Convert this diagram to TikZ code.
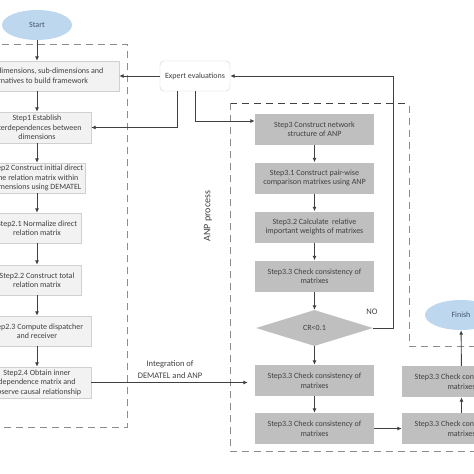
\documentclass[tikz,border=0pt]{standalone}
\usepackage{fontspec}
\setmainfont{Carlito}
\usetikzlibrary{arrows.meta,shapes.geometric}
\definecolor{lbox}{HTML}{F2F2F2}
\definecolor{lborder}{HTML}{D0D0D0}
\definecolor{dbox}{HTML}{BFBFBF}
\definecolor{txt}{HTML}{404040}
\definecolor{ell}{HTML}{BDD7EE}
\definecolor{elltxt}{HTML}{44546A}
\definecolor{dash}{HTML}{8C8C8C}
\begin{document}
\begin{tikzpicture}[x=1pt,y=-1pt,
  lstep/.style={draw=lborder,fill=lbox,align=center,text=txt,font=\fontsize{8}{9.5}\selectfont,minimum height=30pt,inner sep=1pt},
  dstep/.style={fill=dbox,align=center,text=txt,font=\fontsize{8}{9.5}\selectfont,minimum width=119pt,minimum height=31pt,inner sep=1pt},
  term/.style={ellipse,fill=ell,text=elltxt,font=\fontsize{8}{9.5}\selectfont,minimum width=70pt,minimum height=30pt,inner sep=0pt},
  arr/.style={draw=txt,line width=0.9pt,-{Latex[length=4.5pt,width=4pt]}},
  dsh/.style={draw=dash,line width=0.9pt,dash pattern=on 7pt off 5pt}]
\useasboundingbox (0,0) rectangle (474,474);
\clip (0,0) rectangle (474,474);
% dashed frames
\draw[dsh] (-10,44) -- (127,44) -- (127,427) -- (-10,427);
\draw[dsh,draw=txt] (230,103) -- (409,103);
\draw[dsh] (409,106) -- (409,346) -- (480,346);
\draw[dsh] (230,103) -- (230,451) -- (480,451);
% left column
\node[term] (start) at (37,25) {Start};
\node[lstep,minimum width=164pt] (b1) at (37,76) {Identify dimensions, sub-dimensions and\\alternatives to build framework};
\node[lstep,minimum width=108pt,minimum height=31pt] (b2) at (37,127.5) {Step1 Establish\\interdependences between\\dimensions};
\node[lstep,minimum width=96pt] (b3) at (37,178) {Step2 Construct initial direct\\the relation matrix within\\dimensions using DEMATEL};
\node[lstep,minimum width=88pt] (b4) at (37,228) {Step2.1 Normalize direct\\relation matrix};
\node[lstep,minimum width=88pt] (b5) at (37,280) {Step2.2 Construct total\\relation matrix};
\node[lstep,minimum width=108pt] (b6) at (37,331) {Step2.3 Compute dispatcher\\and receiver};
\node[lstep,minimum width=108pt,minimum height=31pt] (b7) at (37,382.5) {Step2.4 Obtain inner\\dependence matrix and\\observe causal relationship};
\draw[arr] (start) -- (b1);
\draw[arr] (b1) -- (b2);
\draw[arr] (b2) -- (b3);
\draw[arr] (b3) -- (b4);
\draw[arr] (b4) -- (b5);
\draw[arr] (b5) -- (b6);
\draw[arr] (b6) -- (b7);
% expert
\node[draw=lborder,fill=white,rounded corners=4pt,text=txt,font=\fontsize{8}{9.5}\selectfont,minimum width=70pt,minimum height=30pt,inner sep=1pt] (ee) at (195,76) {Expert evaluations};
\draw[arr] (ee) -- (b1);
\draw[arr] ([xshift=-18pt]ee.south) |- (b2.east);
% middle column
\node[dstep] (s1) at (314.5,129) {Step3 Construct network\\structure of ANP};
\node[dstep] (s2) at (314.5,178) {Step3.1 Construct pair-wise\\comparison matrixes using ANP};
\node[dstep] (s3) at (314.5,227) {Step3.2 Calculate\ \ relative\\important weights of matrixes};
\node[dstep] (s4) at (314.5,276) {Step3.3 Check consistency of\\matrixes};
\node[diamond,fill=dbox,text=txt,font=\fontsize{8}{9.5}\selectfont,minimum width=117pt,minimum height=36pt,inner sep=0pt,aspect=3.25] (d) at (314.5,328) {CR<0.1};
\node[dstep] (s5) at (314.5,380.5) {Step3.3 Check consistency of\\matrixes};
\node[dstep] (s6) at (314.5,428.5) {Step3.3 Check consistency of\\matrixes};
\draw[arr] ([xshift=0pt]ee.south) |- ([yshift=8pt]s1.west);
\draw[arr] (s1) -- (s2);
\draw[arr] (s2) -- (s3);
\draw[arr] (s3) -- (s4);
\draw[arr] (s4) -- (d);
\draw[arr] (d) -- (s5);
\draw[arr] (s5) -- (s6);
\coordinate (fb) at (393,76);
\draw[arr] (d.east) -| (fb) -- (ee.east);
\node[text=txt,font=\fontsize{8.5}{9}\selectfont] (no) at (372,312) {NO};
% right column
\node[dstep] (r1) at (461.5,428.5) {Step3.3 Check consistency of\\matrixes};
\node[dstep] (r2) at (461.5,381.5) {Step3.3 Check consistency of\\matrixes};
\node[term,minimum width=72pt] (fin) at (461,315) {Finish};
\draw[arr] (s6) -- (r1);
\draw[arr] (r1) -- (r2);
\draw[arr] (r2) -- (fin);
% integration
\draw[arr,shorten >=7pt] (b7.east) -- (b7.east -| s5.west);
\node[text=txt,align=center,font=\fontsize{8.5}{12}\selectfont] (integ) at (170,370) {Integration of\\DEMATEL and ANP};
\node[rotate=90,text=txt,font=\fontsize{10}{12}\selectfont] (anp) at (208,216) {ANP process};
\end{tikzpicture}
\end{document}
